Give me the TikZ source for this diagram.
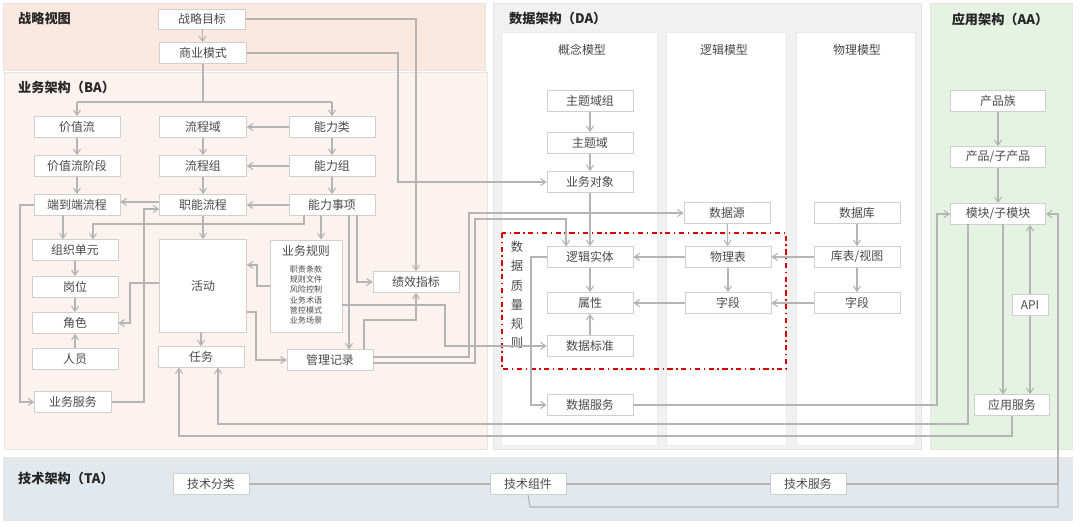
\documentclass[tikz,border=0pt]{standalone}
\usepackage{fontspec}
\setmainfont{Noto Sans CJK SC}
\usetikzlibrary{arrows.meta}
\definecolor{ln}{HTML}{B4B4B4}
\definecolor{bd}{HTML}{CFCFCF}
\definecolor{tx}{HTML}{4A4A4A}
\definecolor{sv}{HTML}{FBE9E0}
\definecolor{ba}{HTML}{FDF3EE}
\definecolor{da}{HTML}{F1F1F1}
\definecolor{aa}{HTML}{E4F3E2}
\definecolor{ta}{HTML}{E1E9EF}
\newcommand\mybox[6][]{\node[box,minimum width=#5*0.02cm,minimum height=#6*0.02cm,#1] (#2) at (#3) {#4};}
\begin{document}
\begin{tikzpicture}[x=0.02cm,y=-0.02cm,
 box/.style={draw=bd,fill=white,inner sep=0pt,text=tx,font=\fontsize{6.8}{8}\selectfont},
 ttl/.style={anchor=west,text=black!85,font=\fontsize{7.5}{9}\selectfont\bfseries},
 pan/.style={draw=black!10,line width=0.4pt},
 ar/.style={draw=ln,line width=0.6pt,-{Straight Barb[length=3pt,width=4pt]}},
 li/.style={draw=ln,line width=0.6pt}]
\useasboundingbox (0,0) rectangle (1080,527);
% panels
\fill[pan,fill=sv] (3,3) rectangle (485,70);
\fill[pan,fill=ba] (4,72) rectangle (487,449);
\fill[pan,fill=da] (493,3) rectangle (921,449);
\fill[pan,fill=aa] (930,3) rectangle (1072,449);
\fill[pan,fill=ta] (3,457) rectangle (1072,520);
\foreach \a/\b in {501/657,666/786,796/915}{\fill[draw=black!8,fill=white] (\a,32) rectangle (\b,445);}
\node[ttl] at (12,18) {战略视图};
\node[ttl] at (12,87) {业务架构（BA）};
\node[ttl] at (503,18) {数据架构（DA）};
\node[ttl,anchor=center] at (1000,19) {应用架构（AA）};
\node[ttl] at (12,478) {技术架构（TA）};
\foreach \x/\t in {582/概念模型,724/逻辑模型,857/物理模型}{\node[text=tx,font=\fontsize{6.8}{8}\selectfont] at (\x,50) {\t};}
% red box
\draw[red!85!black,line width=0.8pt,dash dot] (502,233) rectangle (786,369);
\node[text=tx,font=\fontsize{7}{11}\selectfont,align=center] (dq) at (517,295) {数\\据\\质\\量\\规\\则};
% strategy
\mybox{zl}{202,19}{战略目标}{87}{20}
\mybox{sy}{203,53}{商业模式}{87}{21}
% BA
\mybox{jzl}{77,127}{价值流}{86}{21}
\mybox{jzj}{77,166}{价值流阶段}{86}{21}
\mybox{ddd}{77,205}{端到端流程}{86}{21}
\mybox{lcy}{203,127}{流程域}{87}{21}
\mybox{lcz}{203,166}{流程组}{87}{21}
\mybox{zn}{203,205}{职能流程}{87}{21}
\mybox{nll}{332,127}{能力类}{86}{21}
\mybox{nlz}{332,166}{能力组}{86}{21}
\mybox{nls}{332,205}{能力事项}{86}{21}
\mybox{zz}{75,250}{组织单元}{86}{21}
\mybox{gw}{75,287}{岗位}{86}{21}
\mybox{js}{75,323}{角色}{86}{21}
\mybox{ry}{75,359}{人员}{86}{21}
\mybox{ywfw}{73,402}{业务服务}{77}{21}
\mybox{hd}{203,286}{活动}{87}{93}
\mybox{rw}{201,357}{任务}{86}{21}
\node[box,minimum width=72*0.02cm,minimum height=92*0.02cm] (gz) at (306,286) {};
\node[text=tx,font=\fontsize{6.8}{8}\selectfont] at (306,251) {业务规则};
\node[text=tx,font=\fontsize{4.6}{5.9}\selectfont,align=center] at (306,295) {职责条款\\规则文件\\风险控制\\业务术语\\管控模式\\业务场景};
\mybox{jx}{416,282}{绩效指标}{86}{21}
\mybox{gl}{330,360}{管理记录}{86}{21}
% DA
\mybox{ztz}{590,101}{主题域组}{86}{21}
\mybox{zty}{590,143}{主题域}{86}{21}
\mybox{ywdx}{590,182}{业务对象}{86}{21}
\mybox{ljst}{590,257}{逻辑实体}{86}{21}
\mybox{sx}{590,303}{属性}{86}{21}
\mybox{sjbz}{590,346}{数据标准}{86}{21}
\mybox{sjfw}{590,405}{数据服务}{86}{21}
\mybox{sjy}{727,213}{数据源}{86}{21}
\mybox{wlb}{728,257}{物理表}{86}{21}
\mybox{zd1}{728,303}{字段}{86}{21}
\mybox{sjk}{857,213}{数据库}{86}{21}
\mybox{kb}{857,257}{库表/视图}{86}{21}
\mybox{zd2}{857,303}{字段}{86}{21}
% AA
\mybox{cpz}{998,101}{产品族}{95}{21}
\mybox{cp}{998,157}{产品/子产品}{95}{21}
\mybox{mk}{998,214}{模块/子模块}{95}{21}
\mybox{api}{1030,305}{API}{36}{21}
\mybox{yyfw}{1012,405}{应用服务}{75}{21}
% TA
\mybox{jsfl}{211,484}{技术分类}{76}{21}
\mybox{jszj}{528,484}{技术组件}{76}{21}
\mybox{jsfw}{808,484}{技术服务}{76}{21}
% edges strategy
\draw[ar] (zl) -- (sy);
\draw[ar] (zl.east) -| (jx.north);
\draw[ar] (sy.east) -- (398,53) |- (ywdx.west);
\draw[li] (sy.south) -- (203,102);
\draw[ar] (77,102) -- (jzl.north);
\draw[ar] (332,102) -- (nll.north);
\draw[li] (77,102) -- (332,102);
% BA edges
\draw[ar] (jzl) -- (jzj); \draw[ar] (jzj) -- (ddd);
\draw[ar] (lcy) -- (lcz); \draw[ar] (lcz) -- (zn);
\draw[ar] (nll) -- (nlz); \draw[ar] (nlz) -- (nls);
\draw[ar] (nll) -- (lcy); \draw[ar] (nlz) -- (lcz); \draw[ar] (nls) -- (zn);
\draw[ar] (zn.west|-0,202) -- (ddd.east|-0,202);
\draw[ar] (ywfw.east) -- (144,402) |- (zn.west|-0,209);
\draw[ar] (ddd.west) -- (20,205) |- (ywfw.west);
\draw[ar] (63,215.5) -- (63,239.5);
\draw[ar] (304,215.5) -- (304,224) -| (93,239.5);
\draw[ar] (zz) -- (gw); \draw[ar] (gw) -- (js); \draw[ar] (ry) -- (js);
\draw[ar] (hd.west|-0,283) -- (130,283) |- (js.east);
\draw[ar] (zn) -- (hd); \draw[ar] (hd.south-|rw.north) -- (rw.north);
\draw[ar] (gz.west|-0,286) -- (257,286) |- (hd.east|-0,265);
\draw[ar] (321,215.5) -- (321,239.5);
\draw[ar] (357,215.5) |- (jx.west);
\draw[ar] (349,215.5) -- (349,349.5);
\draw[ar] (hd.east|-0,312) -- (256,312) |- (gl.west);
\draw[ar] (364,349.5) -- (364,320) -| (jx.south);
\draw[ar] (gz.east|-0,305) -- (445,305) |- (sjbz.west);
\draw[ar] (gl.east|-0,357) -- (469,357) |- (sjy.west);
\draw[ar] (gl.east|-0,363) -- (475,363) |- (566,219) -- (566,246.5);
% DA edges
\draw[ar] (ztz) -- (zty); \draw[ar] (zty) -- (ywdx); \draw[ar] (ywdx) -- (ljst);
\draw[ar] (ljst) -- (sx); \draw[ar] (sjbz) -- (sx);
\draw[ar] (wlb) -- (ljst); \draw[ar] (zd1) -- (sx);
\draw[ar] (kb) -- (wlb); \draw[ar] (zd2) -- (zd1);
\draw[ar] (sjy) -- (wlb); \draw[ar] (wlb) -- (zd1);
\draw[ar] (sjk) -- (kb); \draw[ar] (kb) -- (zd2);
\draw[ar] (ljst.west) -- (531,257) |- (sjfw.west);
\draw[ar] (sjfw.east) -- (937,405) |- (mk.west);
% AA edges
\draw[ar] (cpz) -- (cp); \draw[ar] (cp) -- (mk);
\draw[ar] (1003,224.5) -- (1003,394.5);
\draw[ar] (api.north) -- (api.north|-mk.south);
\draw[ar] (api.south) -- (api.south|-yyfw.north);
\draw[ar] (968,224.5) -- (968,424) -| (218,367.5);
\draw[ar] (yyfw.south) -- (1012,436) -| (179,367.5);
% TA edges
\draw[li] (jsfl) -- (jszj); \draw[li] (jszj) -- (jsfw);
\draw[ar] (jsfw.east) -- (1058,484) |- (mk.east);
\draw[li] (jszj.south) -- (530,507) -| (1058,484);
\end{tikzpicture}
\end{document}
